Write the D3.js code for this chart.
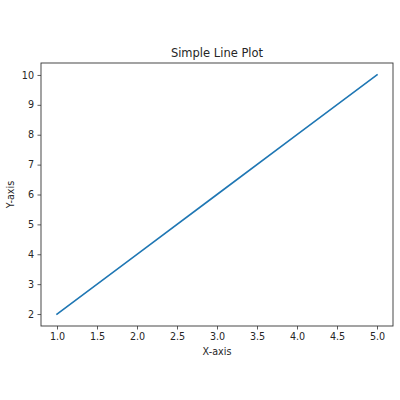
<!DOCTYPE html>
<html>
<head>
<meta charset="utf-8">
<script src="https://cdn.jsdelivr.net/npm/d3@7"></script>
<style>
  body { margin: 0; background: #fff; }
  svg text { font-family: "DejaVu Sans", sans-serif; fill: #262626; }
</style>
</head>
<body>
<div id="chart"></div>
<script>
const xValues = [1, 2, 3, 4, 5];
const yValues = [2, 4, 6, 8, 10];
const xTicks = [1.0, 1.5, 2.0, 2.5, 3.0, 3.5, 4.0, 4.5, 5.0];
const yTicks = [2, 3, 4, 5, 6, 7, 8, 9, 10];
const title = "Simple Line Plot";
const xLabel = "X-axis";
const yLabel = "Y-axis";

const width = 400, height = 400;
const plotLeft = 41, plotRight = 393, plotTop = 63, plotBottom = 326;

const svg = d3.select("#chart").append("svg")
  .attr("width", width)
  .attr("height", height);

// matplotlib style 5% margins
let xPad = (d3.max(xValues) - d3.min(xValues)) * 0.05;
let yPad = (d3.max(yValues) - d3.min(yValues)) * 0.05;

let x = d3.scaleLinear()
  .domain([d3.min(xValues) - xPad, d3.max(xValues) + xPad])
  .range([plotLeft, plotRight]);
let y = d3.scaleLinear()
  .domain([d3.min(yValues) - yPad, d3.max(yValues) + yPad])
  .range([plotBottom, plotTop]);

// axes
let xAxis = svg.append("g")
  .attr("transform", `translate(0,${plotBottom})`)
  .call(d3.axisBottom(x).tickValues(xTicks).tickFormat(d3.format(".1f")).tickSize(3.5).tickPadding(3.5));
let yAxis = svg.append("g")
  .attr("transform", `translate(${plotLeft},0)`)
  .call(d3.axisLeft(y).tickValues(yTicks).tickFormat(d3.format("d")).tickSize(3.5).tickPadding(3.5));

[xAxis, yAxis].forEach(g => {
  g.select(".domain").remove();
  g.selectAll(".tick line").attr("stroke", "#333").attr("stroke-width", 0.8);
  g.selectAll(".tick text").attr("font-size", "9.6px").attr("fill", "#262626");
});

// frame
svg.append("rect")
  .attr("x", plotLeft)
  .attr("y", plotTop)
  .attr("width", plotRight - plotLeft)
  .attr("height", plotBottom - plotTop)
  .attr("fill", "none")
  .attr("stroke", "#333")
  .attr("stroke-width", 0.9);

// the line
let line = d3.line()
  .x((d, i) => x(xValues[i]))
  .y(d => y(d));

svg.append("path")
  .datum(yValues)
  .attr("d", line)
  .attr("fill", "none")
  .attr("stroke", "#1f77b4")
  .attr("stroke-width", 1.6)
  .attr("stroke-linecap", "square");

// labels
svg.append("text")
  .attr("x", (plotLeft + plotRight) / 2)
  .attr("y", plotTop - 6)
  .attr("text-anchor", "middle")
  .attr("font-size", "11.5px")
  .text(title);

svg.append("text")
  .attr("x", (plotLeft + plotRight) / 2)
  .attr("y", 355)
  .attr("text-anchor", "middle")
  .attr("font-size", "9.6px")
  .text(xLabel);

svg.append("text")
  .attr("transform", `translate(14,${(plotTop + plotBottom) / 2}) rotate(-90)`)
  .attr("text-anchor", "middle")
  .attr("font-size", "9.6px")
  .text(yLabel);
</script>
</body>
</html>
